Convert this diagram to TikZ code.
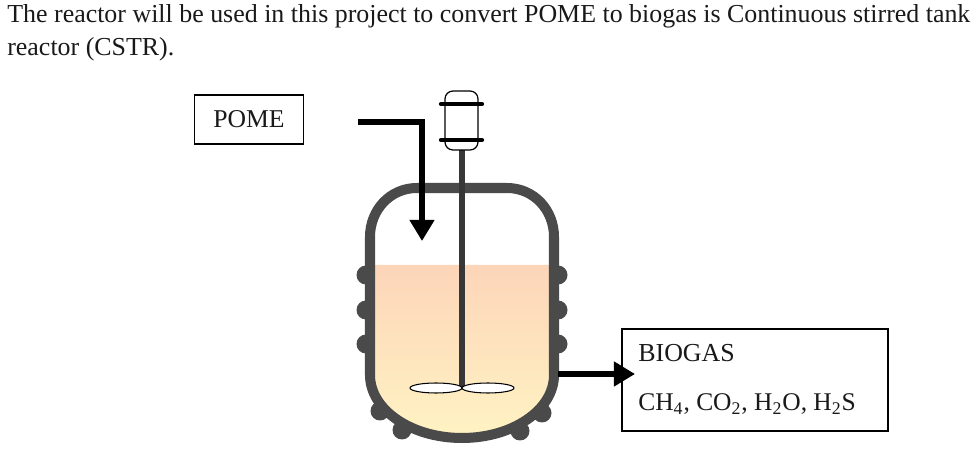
\documentclass[tikz,border=0pt]{standalone}
\usepackage{fontspec}
\setmainfont{Liberation Serif}
\usetikzlibrary{arrows.meta}
\definecolor{wallgrey}{HTML}{4A4A4A}
\definecolor{liqtop}{HTML}{FDD5B9}
\definecolor{liqbottom}{HTML}{FFF3C3}
\tikzset{
    bodytext/.style={font=\fontsize{14.75}{17}\selectfont,text=black!90},
    plaintext/.style={bodytext,anchor=base west,inner sep=0pt},
    labelbox/.style={draw,line width=0.7pt,inner sep=0pt},
    flow/.style={line width=2.85pt,-{Triangle[width=13.6pt,length=12pt]}},
    wall/.style={line width=5.7pt,draw=wallgrey},
    bump/.style={fill=wallgrey},
    blade/.style={draw,fill=white,line width=0.6pt}
}
\begin{document}
\begin{tikzpicture}[x=0.02cm,y=-0.02cm]
                \useasboundingbox (0,0) rectangle (975,449);
                \node[plaintext] (line1) at (7,23) {The reactor will be used in this project to convert POME to biogas is Continuous stirred tank};
                \node[plaintext] (line2) at (7,56) {reactor (CSTR).};
                \node[labelbox,bodytext,font=\fontsize{14.6}{17}\selectfont,minimum width=2.18cm,minimum height=0.98cm] (pome) at (249,119.5) {POME};
                \node[labelbox,minimum width=5.32cm,minimum height=2.04cm] (biogas) at (755,380) {};
                \node[plaintext] (gasname) at (638,362) {BIOGAS};
                \node[plaintext,font=\fontsize{14.5}{17}\selectfont] (gaslist) at (638,411) {CH\textsubscript{4}, CO\textsubscript{2}, H\textsubscript{2}O, H\textsubscript{2}S};
                \foreach \y in {275,310,344} {
                    \fill[bump] (366,\y) circle (9.5);
                    \fill[bump] (558,\y) circle (9.5);
                }
                \foreach \x/\y in {380/411,402/430,520/431,542/413} {
                    \fill[bump] (\x,\y) circle (9.5);
                }
                \shade[top color=liqtop,bottom color=liqbottom] (370,265) -- (554,265) -- (554,375) arc (0:180:92 and 63) -- cycle;
                \draw[wall] (370,375) -- (370,237) .. controls (370,210) and (390,188) .. (417,188) -- (507,188) .. controls (534,188) and (554,210) .. (554,237) -- (554,375) arc (0:180:92 and 63) -- cycle;
                \draw[line width=3.8pt,draw=wallgrey!75!black] (462,150) -- (462,387);
                \draw[blade] (436,388) ellipse (26 and 5);
                \draw[blade] (488,388) ellipse (26 and 5);
                \draw[fill=white,line width=0.7pt,rounded corners=4.5pt] (445,91) rectangle (478,150);
                \draw[line width=2.4pt,line cap=round] (441,104) -- (482,104);
                \draw[line width=2.4pt,line cap=round] (441,140) -- (482,140);
                \coordinate (feedstart) at (358,122);
                \coordinate (feedend) at (422,241);
                \coordinate (gasstart) at (558,374);
                \coordinate (gasend) at (635,374);
                \draw[flow] (feedstart) -| (feedend);
                \draw[flow] (gasstart) -- (gasend);
            \end{tikzpicture}
\end{document}
